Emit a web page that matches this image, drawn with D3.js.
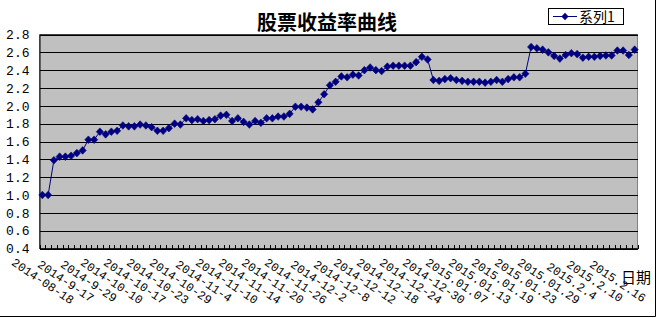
<!DOCTYPE html>
<html>
<head>
<meta charset="utf-8">
<script src="https://cdn.jsdelivr.net/npm/d3@7"></script>
<style>
  body { margin: 0; background: #fff; }
  svg { display: block; }
</style>
</head>
<body>
<div id="chart"></div>
<script>
// data
var title = "股票收益率曲线";
var seriesName = "系列1";
var xTitle = "日期";

// one label every 4 trading days
var tickLabels = ["2014-08-18", "2014-9-17", "2014-9-29", "2014-10-10", "2014-10-17",
  "2014-10-23", "2014-10-29", "2014-11-4", "2014-11-10", "2014-11-14", "2014-11-20",
  "2014-11-26", "2014-12-2", "2014-12-8", "2014-12-12", "2014-12-18", "2014-12-24",
  "2014-12-30", "2015.01.07", "2015.01.13", "2015.01.19", "2015.01.23", "2015.01.29",
  "2015.2.4", "2015.2.10", "2015.2.16"];
var labelStep = 4;

var returns = [
  1.00, 1.00, 1.39, 1.43, 1.43, 1.44, 1.47, 1.50, 1.62, 1.62,
  1.71, 1.68, 1.71, 1.72, 1.78, 1.77, 1.77, 1.79, 1.78, 1.76,
  1.72, 1.72, 1.75, 1.80, 1.79, 1.86, 1.84, 1.85, 1.83, 1.84,
  1.85, 1.89, 1.90, 1.83, 1.86, 1.82, 1.79, 1.83, 1.81, 1.86,
  1.86, 1.88, 1.88, 1.91, 1.99, 1.99, 1.98, 1.96, 2.04, 2.13,
  2.23, 2.27, 2.33, 2.32, 2.35, 2.34, 2.40, 2.43, 2.40, 2.39,
  2.44, 2.45, 2.45, 2.45, 2.45, 2.49, 2.55, 2.52, 2.29, 2.28,
  2.30, 2.31, 2.29, 2.28, 2.27, 2.27, 2.27, 2.26, 2.27, 2.29,
  2.27, 2.30, 2.32, 2.32, 2.36, 2.66, 2.645, 2.63, 2.60, 2.56,
  2.53, 2.57, 2.59, 2.58, 2.54, 2.55, 2.55, 2.56, 2.565, 2.565,
  2.62, 2.62, 2.57, 2.63
];

var yTicks = [0.4, 0.6, 0.8, 1.0, 1.2, 1.4, 1.6, 1.8, 2.0, 2.2, 2.4, 2.6, 2.8];

var W = 659, H = 318;
var plot = { left: 39.5, right: 637.5, top: 34.5, bottom: 248.5 };
var navy = "#000080";

var svg = d3.select("#chart").append("svg")
  .attr("width", W).attr("height", H);

svg.append("rect").attr("width", W).attr("height", H).attr("fill", "#fff");

// outer chart border (right and bottom show in the picture)
svg.append("line").attr("x1", 655.5).attr("x2", 655.5).attr("y1", 0).attr("y2", 316.5)
  .attr("stroke", "#000");
svg.append("line").attr("x1", 0).attr("x2", 655.5).attr("y1", 316.5).attr("y2", 316.5)
  .attr("stroke", "#000");

var idx = d3.range(returns.length);
var x = d3.scaleBand().domain(idx).range([plot.left, plot.right]);
var xEdge = d3.scaleLinear().domain([0, returns.length]).range([plot.left, plot.right]);
var y = d3.scaleLinear().domain([0.4, 2.8]).range([plot.bottom, plot.top]);

// plot area
svg.append("rect")
  .attr("x", plot.left).attr("y", plot.top)
  .attr("width", plot.right - plot.left).attr("height", plot.bottom - plot.top)
  .attr("fill", "#c0c0c0").attr("stroke", "#808080");

// y axis + gridlines
var yAxis = svg.append("g")
  .attr("transform", "translate(" + plot.left + ",0)")
  .call(d3.axisLeft(y).tickValues(yTicks).tickSize(-(plot.right - plot.left))
    .tickPadding(10).tickFormat(d3.format(".1f")));
yAxis.select(".domain").attr("stroke", "#000");
yAxis.selectAll(".tick line").attr("stroke", "#000").attr("shape-rendering", "crispEdges");
yAxis.selectAll(".tick text")
  .attr("font-family", "'Liberation Mono', monospace")
  .attr("font-size", 13).attr("fill", "#000");

// x axis with tick marks on the category edges, pointing inside
var xAxis = svg.append("g")
  .attr("transform", "translate(0," + plot.bottom + ")")
  .call(d3.axisBottom(xEdge).tickValues(d3.range(returns.length + 1))
    .tickSize(-4).tickSizeOuter(0).tickFormat(""));
xAxis.select(".domain").attr("stroke", "#000");
xAxis.selectAll(".tick line").attr("stroke", "#000").attr("shape-rendering", "crispEdges");

// rotated date labels
svg.append("g").selectAll("text")
  .data(tickLabels)
  .join("text")
  .attr("transform", function (d, i) {
    var cx = x(i * labelStep) + x.bandwidth() / 2;
    return "translate(" + cx + ",282) rotate(34)";
  })
  .attr("text-anchor", "middle")
  .attr("dominant-baseline", "central")
  .attr("font-family", "'Liberation Mono', monospace")
  .attr("font-size", 12)
  .attr("fill", "#000")
  .text(function (d) { return d; });

// axis title
svg.append("text")
  .attr("x", 636).attr("y", 283)
  .attr("text-anchor", "middle")
  .attr("font-family", "'Noto Sans CJK SC', sans-serif")
  .attr("font-size", 15)
  .text(xTitle);

// line + diamond markers
var line = d3.line()
  .x(function (d, i) { return x(i) + x.bandwidth() / 2; })
  .y(function (d) { return y(d); });

svg.append("path")
  .datum(returns)
  .attr("d", line)
  .attr("fill", "none")
  .attr("stroke", navy)
  .attr("stroke-width", 1);

var diamond = "M0,-3.8L3.6,0L0,3.8L-3.6,0Z";
svg.append("g").selectAll("path")
  .data(returns)
  .join("path")
  .attr("transform", function (d, i) {
    return "translate(" + (x(i) + x.bandwidth() / 2) + "," + y(d) + ")";
  })
  .attr("d", diamond)
  .attr("fill", navy)
  .attr("stroke", navy)
  .attr("stroke-width", 0.6);

// title
svg.append("text")
  .attr("x", 327).attr("y", 30)
  .attr("text-anchor", "middle")
  .attr("font-family", "'Noto Sans CJK SC', sans-serif")
  .attr("font-weight", "bold")
  .attr("font-size", 20)
  .text(title);

// legend
var lg = svg.append("g");
lg.append("rect")
  .attr("x", 548.5).attr("y", 8.5).attr("width", 75).attr("height", 16)
  .attr("fill", "#fff").attr("stroke", "#000");
lg.append("line")
  .attr("x1", 553).attr("x2", 577).attr("y1", 16.5).attr("y2", 16.5)
  .attr("stroke", navy);
lg.append("path")
  .attr("transform", "translate(565,16.5)")
  .attr("d", diamond).attr("fill", navy);
lg.append("text")
  .attr("x", 579).attr("y", 21.5)
  .attr("font-family", "'Noto Sans CJK SC', sans-serif")
  .attr("font-size", 14)
  .text(seriesName);
</script>
</body>
</html>
